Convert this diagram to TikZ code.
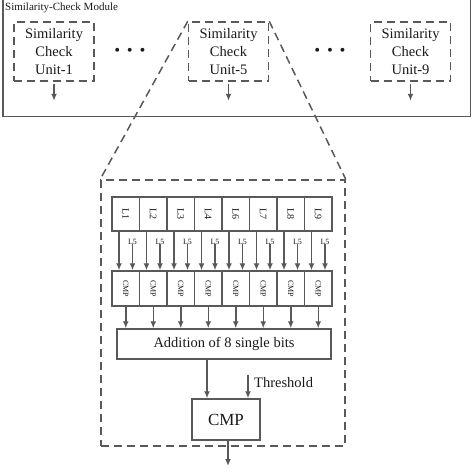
\documentclass[tikz,border=0pt]{standalone}
\usepackage{bm}
\usepackage{fontspec}
\setmainfont{Liberation Serif}
\usetikzlibrary{arrows.meta,positioning}

\tikzset{
  line/.style={draw=black!65, line width=1.5pt},
  dashbox/.style={line, dash pattern=on 8pt off 5pt},
  arrow/.style={line, -{Latex[length=7pt,width=6pt]}},
  unit/.style={dashbox, rectangle, minimum width=80pt, minimum height=59pt,
    align=center, inner sep=0pt, font=\fontsize{14.5}{18}\selectfont},
  lbox/.style={line, rectangle, minimum width=27.5pt, minimum height=34pt,
    inner sep=0pt, font=\fontsize{10}{10}\selectfont},
  cbox/.style={line, rectangle, minimum width=27.5pt, minimum height=35pt,
    inner sep=0pt, font=\fontsize{8}{8}\selectfont},
  wbox/.style={line, rectangle, inner sep=0pt, font=\fontsize{14.5}{17}\selectfont}
}

\begin{document}
\begin{tikzpicture}[x=1pt, y=-1pt, text=black!90]
  \useasboundingbox (0,0) rectangle (474,474);

  % module
  \draw[line] (3,-3) rectangle (470.5,116.5);
  \node[anchor=west, inner sep=0pt, font=\fontsize{11}{12}\selectfont] (title) at (5,8) {Similarity-Check Module};

  \node[unit] (u1) at (54,51.5)  {Similarity\\Check\\Unit-1};
  \node[unit] (u5) at (228.5,51.5) {Similarity\\Check\\Unit-5};
  \node[unit] (u9) at (410.5,51.5) {Similarity\\Check\\Unit-9};

  \node[font=\fontsize{25}{25}\selectfont] (d1) at (130,51) {$\bm{\cdots}$};
  \node[font=\fontsize{25}{25}\selectfont] (d2) at (330,51) {$\bm{\cdots}$};

  \foreach \u in {u1,u5,u9} {
    \coordinate[below=19pt of \u.south] (\u-out);
    \draw[arrow] ([yshift=-2pt]\u.south) -- (\u-out);
  }

  % zoomed unit
  \node[dashbox, rectangle, minimum width=244pt, minimum height=266pt, inner sep=0pt] (zoom) at (223,313) {};
  \draw[dashbox] (u5.north west) -- (zoom.north west);
  \draw[dashbox] (u5.north east) -- (zoom.north east);

  \foreach \lab [count=\i] in {1,2,3,4,6,7,8,9} {
    \node[lbox] (l\i) at ({112+27.5*(\i-0.5)},214) {\rotatebox{-90}{L\lab}};
    \node[cbox] (c\i) at ({112+27.5*(\i-0.5)},288.5) {\rotatebox{-90}{CMP}};
    \node[inner sep=0pt, font=\fontsize{8}{8}\selectfont] (r\i) at ({112+27.5*(\i-0.5)+6.75},241.5) {L5};
    \draw[arrow] ([xshift=-6.75pt]l\i.south) -- ([xshift=-6.75pt]c\i.north);
    \draw[arrow] (r\i.south) -- ([xshift=6.75pt]c\i.north);
  }

  \node[wbox, minimum width=214pt, minimum height=30pt] (add) at (224,344) {Addition of 8 single bits};
  \foreach \i in {1,...,8}
    \draw[arrow] (c\i.south) -- (c\i.south |- add.north);

  \node[wbox, minimum width=68pt, minimum height=41pt, font=\fontsize{17}{18}\selectfont] (cmp) at (226,419.5) {CMP};
  \coordinate (thr) at (248,375);
  \node[anchor=west, inner sep=0pt, font=\fontsize{14.5}{16}\selectfont] (thrl) at (254,383) {Threshold};
  \draw[arrow] (add.south -| 207,0) -- (cmp.north -| 207,0);
  \draw[arrow] (thr) -- (cmp.north -| thr);
  \coordinate (res) at (228,466);
  \draw[arrow] (cmp.south -| res) -- (res);
\end{tikzpicture}
\end{document}
